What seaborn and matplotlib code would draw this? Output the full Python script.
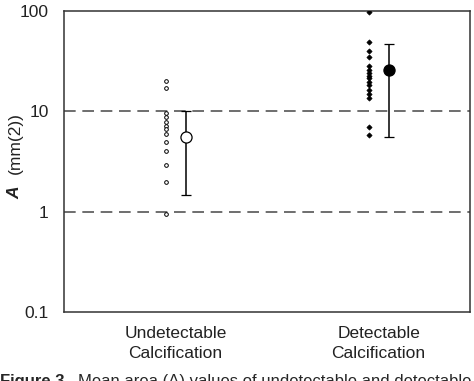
import numpy as np
import pandas as pd
import matplotlib
matplotlib.use("Agg")
import matplotlib.pyplot as plt
import seaborn as sns

# values (area A in mm^2, log scale)
undetectable = [20.1, 17.0, 9.6, 8.8, 7.9, 7.2, 6.6, 5.9, 5.0, 4.0, 2.95, 1.96, 0.95]
detectable = [97, 48.6, 40, 34.9, 28.2, 25.7, 24.2, 22.7, 21.4, 19.8, 18.2, 16.2,
              14.8, 13.6, 7.0, 5.85]
groups = ["Undetectable\nCalcification", "Detectable\nCalcification"]
means = [5.6, 26.1]
err_low = [1.45, 5.5]
err_high = [10.0, 46.4]

sns.set_style("white")
plt.rcParams['font.family'] = ['Liberation Sans', 'DejaVu Sans']

df = pd.DataFrame({
    'pos': [0] * len(undetectable) + [1] * len(detectable),
    'A': undetectable + detectable,
    'group': [groups[0]] * len(undetectable) + [groups[1]] * len(detectable),
})

fig = plt.figure(figsize=(4.74, 3.81), dpi=100)
ax = fig.add_axes([64 / 474, 1 - 312 / 381, 406 / 474, 301 / 381])

# raw points
sns.scatterplot(data=df[df.pos == 0], x='pos', y='A', ax=ax, marker='o', s=7,
                facecolor='white', edgecolor='black', linewidth=0.7, legend=False, zorder=3)
sns.scatterplot(data=df[df.pos == 1], x='pos', y='A', ax=ax, marker='D', s=7,
                color='black', edgecolor='black', linewidth=0.5, legend=False, zorder=3)

# mean with range bars
off = 0.1
for i, (m, lo, hi) in enumerate(zip(means, err_low, err_high)):
    ax.errorbar(i + off, m, yerr=[[m - lo], [hi - m]], fmt='o', ms=8,
                mfc='white' if i == 0 else 'black', mec='black', mew=0.9,
                ecolor='black', elinewidth=1.1, capsize=3.5, capthick=1.1, zorder=4)

ax.set_yscale('log')
ax.set_ylim(0.1, 100)
ax.set_xlim(-0.5, 1.5)
ax.set_yticks([0.1, 1, 10, 100])
ax.set_yticklabels(['0.1', '1', '10', '100'])
ax.set_xticks([0.05, 1.05])
ax.set_xticklabels(groups, linespacing=1.45)
ax.minorticks_off()
ax.tick_params(axis='both', length=0, labelsize=12.5, colors='#222222')
ax.tick_params(axis='x', pad=10)
ax.tick_params(axis='y', pad=11)

for y in [1, 10]:
    ax.axhline(y, color='#555555', lw=1.2, ls=(0, (7, 4)), zorder=1)

for sp in ax.spines.values():
    sp.set_color('#333333')
    sp.set_linewidth(1.1)

ax.set_xlabel('')
ax.set_ylabel('')
fig.text(15 / 474, 1 - 193 / 381, 'A', rotation=90, ha='center', va='center',
         fontsize=12.5, fontweight='bold', fontstyle='italic', color='#222222')
fig.text(15 / 474, 1 - 143 / 381, '(mm(2))', rotation=90, ha='center',
         va='center', fontsize=12.5, color='#222222')

# caption, cut off at the bottom of the image
fig.text(0.0, 1 - 374 / 381, 'Figure 3', fontsize=12, fontweight='bold', va='top')
fig.text(0.165, 1 - 374 / 381, 'Mean area (A) values of undetectable and detectable calcification',
         fontsize=12, va='top')

fig.savefig('out.png', dpi=100)
